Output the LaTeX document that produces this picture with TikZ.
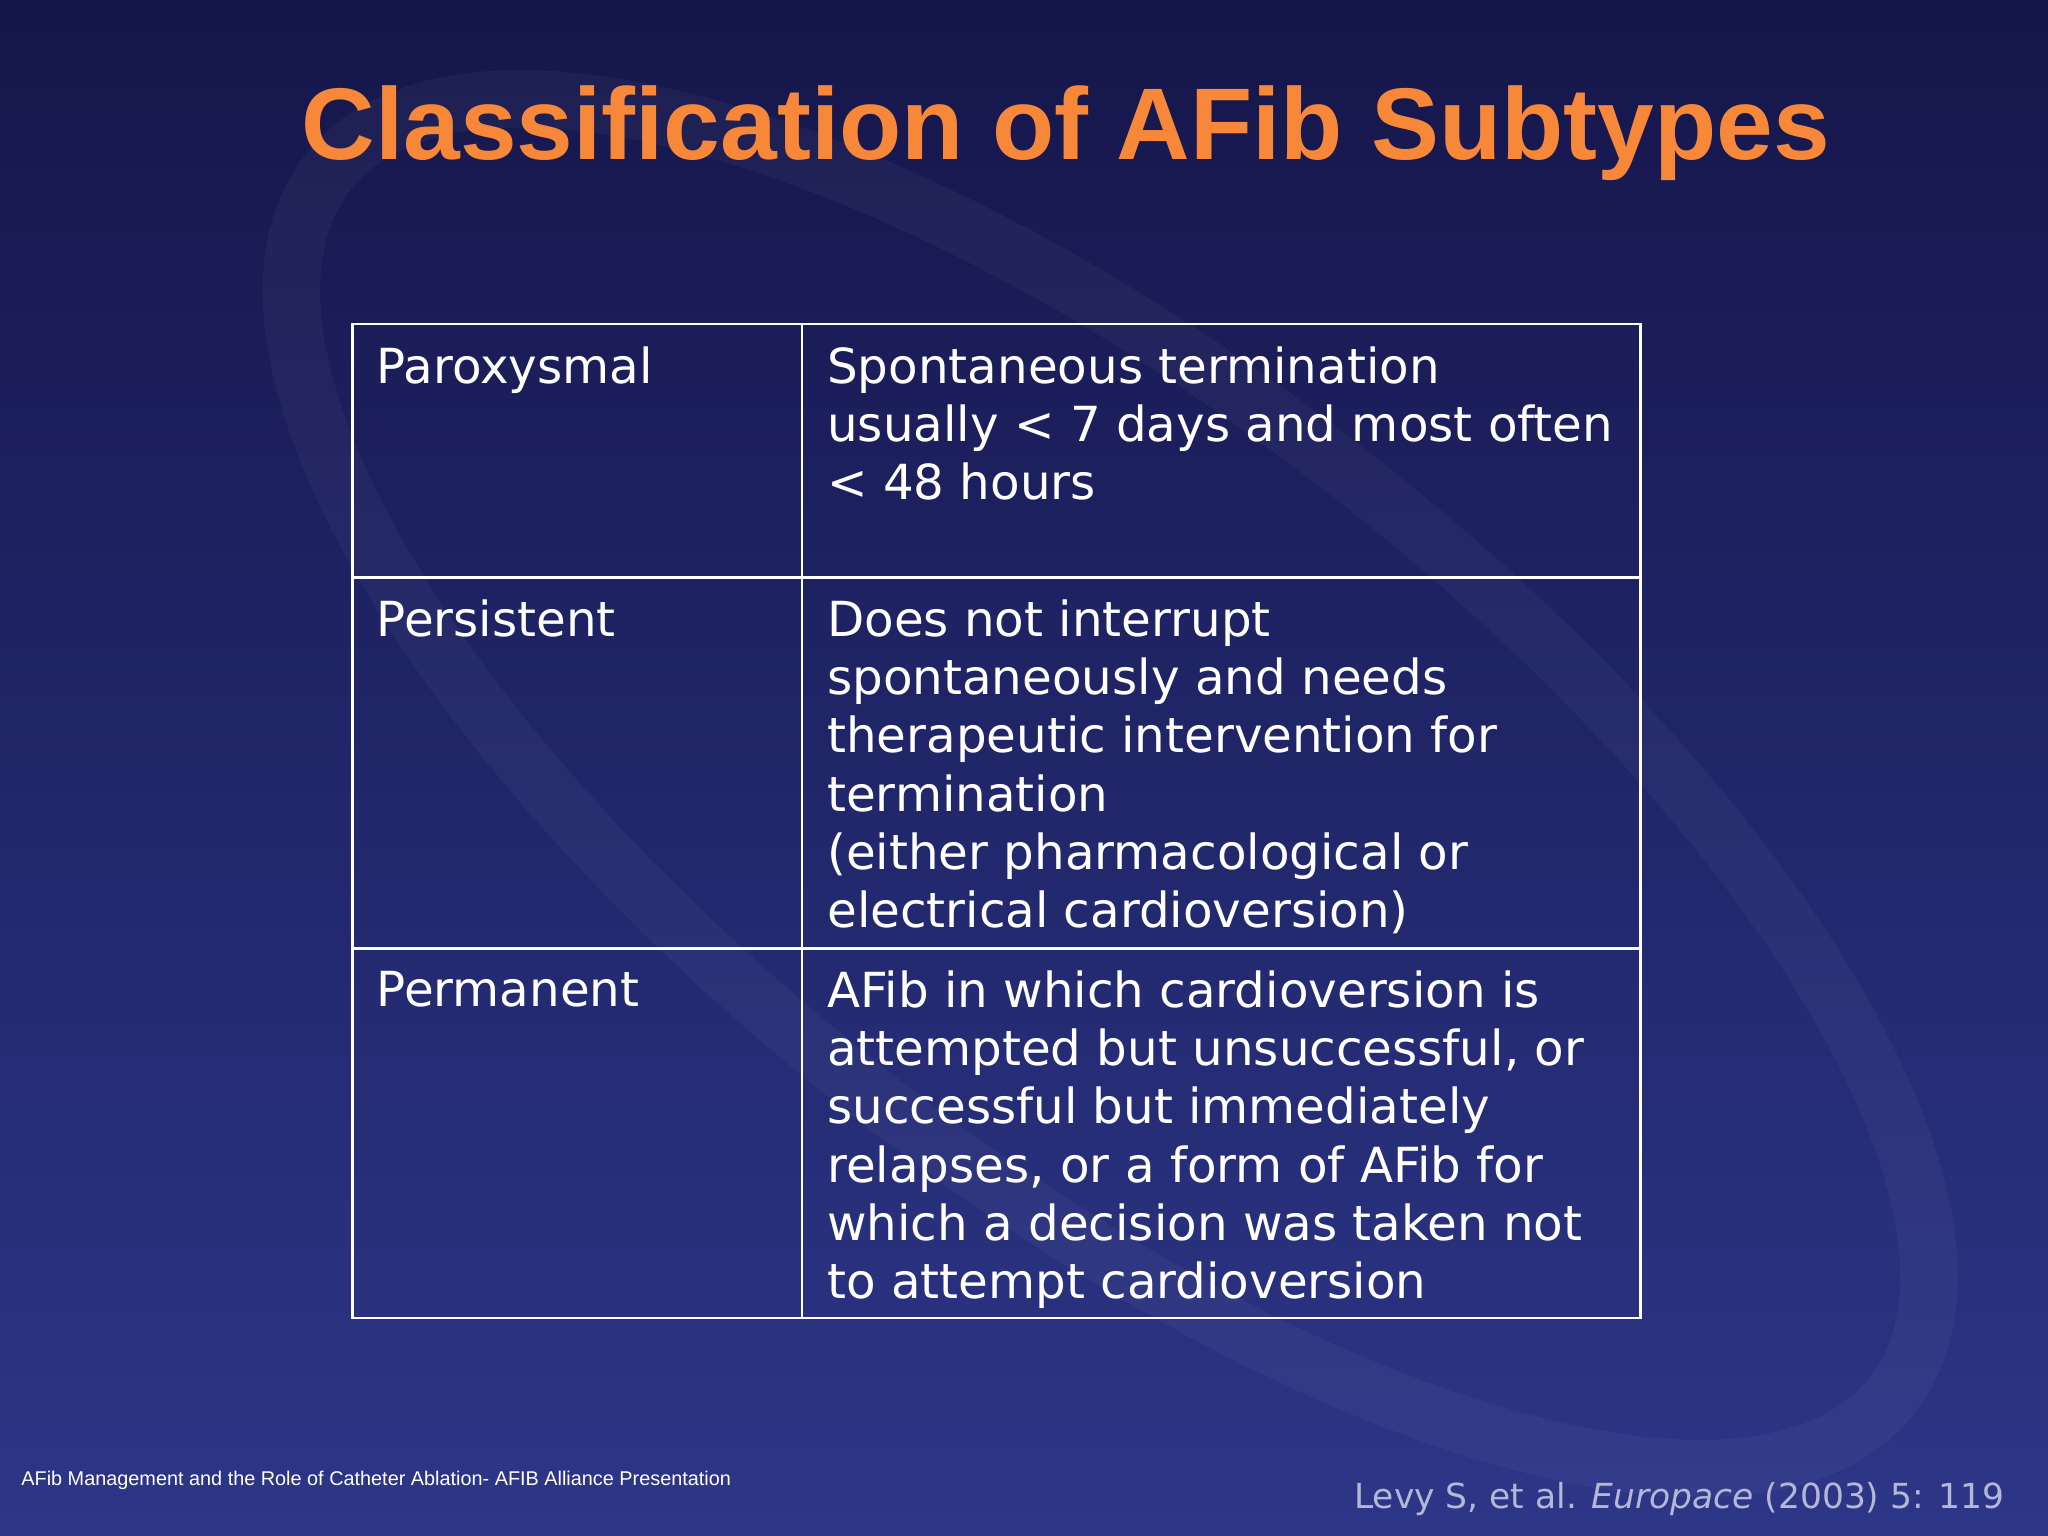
\documentclass[tikz,border=0pt]{standalone}
\usepackage{fontspec}
\setmainfont{DejaVu Sans}
\newfontfamily\arialf{Liberation Sans}
\definecolor{bgtop}{HTML}{15164A}
\definecolor{bgbot}{HTML}{2D3688}
\definecolor{titleor}{HTML}{F7883A}
\definecolor{refgray}{HTML}{B4B8D6}
\tikzset{
  cell/.style={anchor=north west,inner sep=0pt,align=left,text=white,font=\fontsize{18.5}{22.25}\selectfont},
  grid/.style={draw=white,line width=1pt}
}
\begin{document}
\begin{tikzpicture}[x=0.5pt,y=-0.5pt]
\useasboundingbox (0,0) rectangle (1568,1176);
\shade[top color=bgtop,bottom color=bgbot] (0,0) rectangle (1568,1176);
% faint swoosh
\begin{scope}
\clip (0,0) rectangle (1568,1176);
\draw[white,opacity=0.035,line width=22pt,rotate around={-38:(850,600)}] (850,600) ellipse (760 and 300);
\end{scope}
\node[text=titleor,font=\arialf\fontsize{39}{43}\selectfont\bfseries,anchor=base] (title) at (816,122) {Classification of AFib Subtypes};
% table
\draw[grid] (270,248) rectangle (1256,1009);
\draw[grid] (614,248) -- (614,1009);
\draw[grid] (270,442) -- (1256,442);
\draw[grid] (270,726) -- (1256,726);
\node[cell] (c11) at (288,265) {Paroxysmal};
\node[cell] (c12) at (633,265) {Spontaneous termination\\usually < 7 days and most often\\< 48 hours};
\node[cell] (c21) at (288,459) {Persistent};
\node[cell] (c22) at (633,459) {Does not interrupt\\spontaneously and needs\\therapeutic intervention for\\termination\\(either pharmacological or\\electrical cardioversion)};
\node[cell] (c31) at (288,743) {Permanent};
\node[cell] (c32) at (633,743) {AFib in which cardioversion is\\attempted but unsuccessful, or\\successful but immediately\\relapses, or a form of AFib for\\which a decision was taken not\\to attempt cardioversion};
\node[anchor=base west,inner sep=0pt,text=white,font=\arialf\fontsize{7.6}{9}\selectfont] (foot) at (16,1137) {AFib Management and the Role of Catheter Ablation- AFIB Alliance Presentation};
\node[anchor=base east,inner sep=0pt,text=refgray,font=\fontsize{13.2}{15}\selectfont] (ref) at (1535,1155) {Levy S, et al. \textit{Europace} (2003) 5: 119};
\end{tikzpicture}
\end{document}
